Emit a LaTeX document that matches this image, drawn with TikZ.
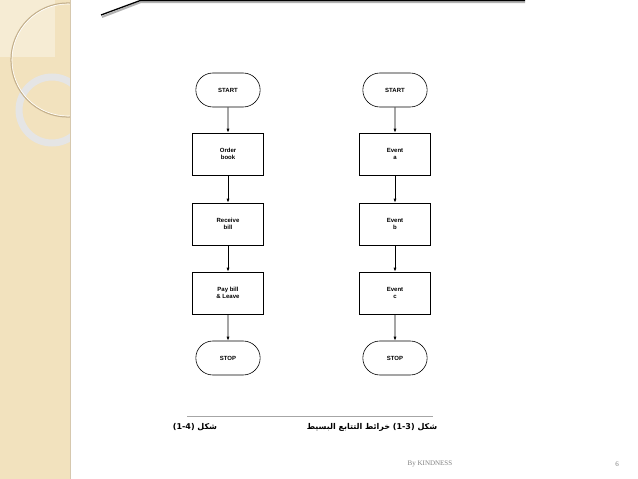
\documentclass[tikz,border=0pt]{standalone}
\usepackage{fontspec}
\setmainfont{Liberation Sans}
\newfontfamily\arabicfont[Script=Arabic]{DejaVu Sans}
\newfontfamily\footfont{Liberation Serif}
\TeXXeTstate=1
\usetikzlibrary{shapes.misc,arrows.meta}
\definecolor{beige}{RGB}{242,226,190}
\definecolor{ringtan}{RGB}{196,176,140}
\begin{document}
\begin{tikzpicture}[x=1pt,y=-1pt,
  term/.style={draw,rounded rectangle,minimum width=71pt,minimum height=34pt,font=\fontsize{6}{7}\selectfont\bfseries,line width=0.6pt},
  proc/.style={draw,rectangle,minimum width=71pt,minimum height=42pt,align=center,font=\fontsize{6}{7}\selectfont\bfseries,line width=0.6pt},
  flow/.style={-{Latex[length=4pt,width=3pt]},line width=0.7pt}]
\useasboundingbox (0,0) rectangle (638,479);
\fill[white] (0,0) rectangle (638,479);
% left strip
\begin{scope}
\clip (0,0) rectangle (70,479);
\fill[beige] (0,0) rectangle (70,479);
\fill[white,opacity=0.35] (0,0) rectangle (55,57);
\draw[gray!20,line width=7pt] (52,110) circle (33);
\draw[ringtan,line width=1.2pt] (68,60) circle (57);
\draw[white,line width=0.6pt] (68,60) circle (56);
\end{scope}
\draw[ringtan!70,line width=1pt] (70,0) -- (70,479);
% top line
\draw[gray!60,line width=2pt] (102,17) -- (141,2) -- (525,2);
\draw[black,line width=1.3pt] (101,15) -- (140,0.6) -- (525,0.6);
% left flow
\node[term] (s1) at (228,90) {START};
\node[proc] (a1) at (228,154) {Order\\book};
\node[proc] (a2) at (228,224) {Receive\\bill};
\node[proc] (a3) at (228,293) {Pay bill\\\& Leave};
\node[term] (e1) at (228,358) {STOP};
% right flow
\node[term] (s2) at (395,90) {START};
\node[proc] (b1) at (395,154) {Event\\a};
\node[proc] (b2) at (395,224) {Event\\b};
\node[proc] (b3) at (395,293) {Event\\c};
\node[term] (e2) at (395,358) {STOP};
\foreach \u/\v in {s1/a1,a1/a2,a2/a3,a3/e1,s2/b1,b1/b2,b2/b3,b3/e2}
  \draw[flow] (\u) -- (\v);
% caption
\coordinate (cl) at (187,416);
\coordinate (cr) at (433,416);
\draw[gray!70,line width=0.6pt] (cl) -- (cr);
\node[font=\arabicfont\bfseries\fontsize{8}{9}\selectfont] (c1) at (195,427) {\beginR شكل \beginL(1-4)\endL\endR};
\node[font=\arabicfont\bfseries\fontsize{8}{9}\selectfont] (c2) at (372,427) {\beginR شكل \beginL(1-3)\endL{} خرائط التتابع البسيط\endR};
% footer
\node[font=\footfont\fontsize{7}{8}\selectfont,text=gray] (f1) at (430,464) {By KINDNESS};
\node[font=\footfont\fontsize{7}{8}\selectfont,text=gray] (f2) at (617,464) {6};
\end{tikzpicture}
\end{document}
